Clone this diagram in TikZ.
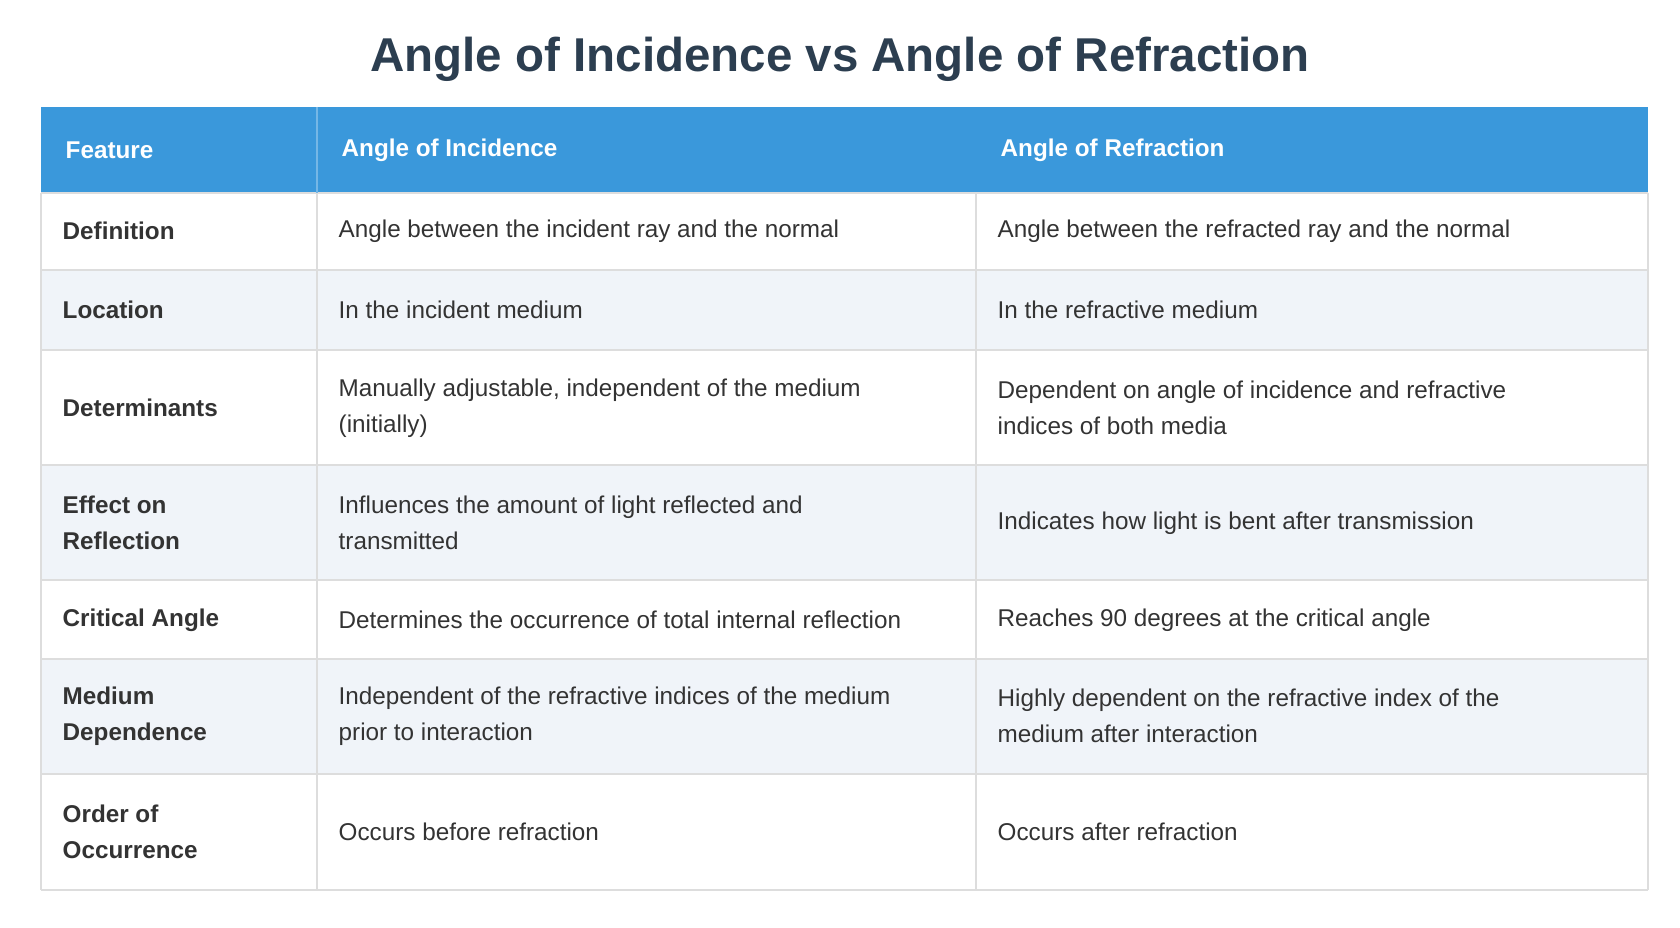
\documentclass[tikz,border=0pt]{standalone}
\usepackage{fontspec}
\setmainfont{Liberation Sans}
\usetikzlibrary{positioning}
\definecolor{headblue}{HTML}{3A98DB}
\definecolor{titleink}{HTML}{2C3E50}
\definecolor{bodyink}{HTML}{333333}
\definecolor{rowshade}{HTML}{F0F4F9}
\definecolor{gridline}{HTML}{DDDDDD}
\begin{document}
\begin{tikzpicture}[x=0.01cm,y=-0.01cm,
   cell/.style={anchor=west, align=left, text=bodyink, font=\fontsize{6.9}{10.2}\selectfont, inner sep=0pt},
   key/.style={cell, font=\fontsize{6.9}{10.2}\selectfont\bfseries},
   head/.style={cell, text=white, font=\fontsize{6.9}{10.2}\selectfont\bfseries}]
   \useasboundingbox (0,0) rectangle (1680,928);
   \fill[white] (0,0) rectangle (1680,928);
   \node (title) at (840,59) [font=\fontsize{13.5}{16}\selectfont\bfseries, text=titleink] {Angle of Incidence vs Angle of Refraction};
   % header
   \fill[headblue] (41,107) rectangle (1648,193);
   \node (h1) at (65,150) [head] {Feature};
   \node (h2) at (341,150) [head] {Angle of Incidence};
   \node (h3) at (1000,150) [head] {Angle of Refraction};
   % shaded rows
   \fill[rowshade] (41,270) rectangle (1648,350);
   \fill[rowshade] (41,465) rectangle (1648,580);
   \fill[rowshade] (41,659) rectangle (1648,774);
   % grid
   \foreach \y in {193,270,350,465,580,659,774,890}
      \draw[gridline, line width=0.8pt] (41,\y) -- (1648,\y);
   \foreach \x in {41,317,976,1648}
      \draw[gridline, line width=0.8pt] (\x,193) -- (\x,890);
   \draw[headblue!70!white, line width=0.6pt] (317,107) -- (317,193);
   % rows
   \foreach \n/\y/\a/\b/\c in {
      1/231/Definition/Angle between the incident ray and the normal/Angle between the refracted ray and the normal,
      2/310/Location/In the incident medium/In the refractive medium,
      3/408/Determinants/{Manually adjustable, independent of the medium\\(initially)}/{Dependent on angle of incidence and refractive\\indices of both media},
      4/523/{Effect on\\Reflection}/{Influences the amount of light reflected and\\transmitted}/Indicates how light is bent after transmission,
      5/620/Critical Angle/Determines the occurrence of total internal reflection/Reaches 90 degrees at the critical angle,
      6/716/{Medium\\Dependence}/{Independent of the refractive indices of the medium\\prior to interaction}/{Highly dependent on the refractive index of the\\medium after interaction},
      7/832/{Order of\\Occurrence}/Occurs before refraction/Occurs after refraction}{
      \node (k\n) at (62,\y) [key] {\a};
      \node (i\n) at (338,\y) [cell] {\b};
      \node (r\n) at (997,\y) [cell] {\c};
   }
\end{tikzpicture}
\end{document}
